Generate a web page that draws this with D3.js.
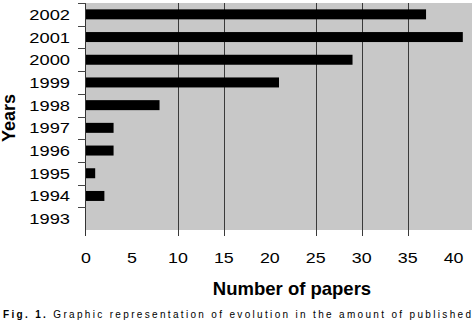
<!DOCTYPE html>
<html><head><meta charset="utf-8">
<script src="https://cdn.jsdelivr.net/npm/d3@7"></script>
<style>
html,body{margin:0;padding:0;background:#fff;overflow:hidden}
svg{display:block}
text{font-family:"Liberation Sans",Arial,Helvetica,sans-serif;fill:#000}
</style></head>
<body>
<svg id="chart" width="474" height="322"></svg>
<script>
const years = ["2002","2001","2000","1999","1998","1997","1996","1995","1994","1993"];
const papers = [37, 41, 29, 21, 8, 3, 3, 1, 2, 0];
const xTicks = [0, 5, 10, 15, 20, 25, 30, 35, 40];
const gridValues = [10, 15, 25, 30, 35];
const xTitle = "Number of papers";
const yTitle = "Years";
const captionBold = "Fig. 1.";
const captionText = " Graphic representation of evolution in the amount of published";

const svg = d3.select("#chart");
const L = 86, R = 472, T = 3, B = 230;

const x = d3.scaleLinear().domain([0, 42]).range([L, R]);
const y = d3.scaleBand().domain(years).range([T, B]).paddingInner(0.56).paddingOuter(0.28);
const yb = d3.scaleBand().domain(years).range([T, B]);

svg.append("rect").attr("x", L).attr("y", T).attr("width", R - L).attr("height", B - T)
  .attr("fill", "#c8c8c8");

svg.append("g").selectAll("line").data(gridValues).join("line")
  .attr("x1", d => Math.round(x(d)) + 0.5).attr("x2", d => Math.round(x(d)) + 0.5)
  .attr("y1", T).attr("y2", B + 6)
  .attr("stroke", "#3a3a3a").attr("stroke-width", 1);

svg.append("g").selectAll("rect").data(years).join("rect")
  .attr("x", x(0))
  .attr("y", d => y(d))
  .attr("height", y.bandwidth())
  .attr("width", (d, i) => x(papers[i]) - x(0))
  .attr("fill", "#000");

svg.append("line").attr("x1", L - 0.5).attr("x2", L - 0.5).attr("y1", T).attr("y2", B + 6)
  .attr("stroke", "#333").attr("stroke-width", 1);

svg.append("g").selectAll("line").data(years).join("line")
  .attr("x1", L - 8).attr("x2", L)
  .attr("y1", d => Math.round(yb(d)) + 0.5).attr("y2", d => Math.round(yb(d)) + 0.5)
  .attr("stroke", "#444").attr("stroke-width", 1);

svg.append("g").selectAll("text").data(years).join("text")
  .attr("transform", d => `translate(70,${yb(d) + yb.bandwidth() / 2 + 5.5}) scale(1.18,1)`)
  .attr("text-anchor", "end")
  .style("font-size", "15.5px")
  .text(d => d);

svg.append("g").selectAll("text").data(xTicks).join("text")
  .attr("transform", d => `translate(${x(d)},263) scale(1.15,1)`)
  .attr("text-anchor", "middle")
  .style("font-size", "15.5px")
  .text(d => d);

svg.append("text").attr("x", 292).attr("y", 295).attr("text-anchor", "middle")
  .style("font-size", "18.5px").style("font-weight", "bold").text(xTitle);

svg.append("text").attr("transform", "translate(15,118) rotate(-90)")
  .attr("text-anchor", "middle")
  .style("font-size", "18px").style("font-weight", "bold").text(yTitle);

const cap = svg.append("text").attr("x", 3).attr("y", 318)
  .style("font-size", "10px").attr("fill", "#222")
  .attr("textLength", 468).attr("lengthAdjust", "spacing");
cap.append("tspan").style("font-weight", "bold").text(captionBold);
cap.append("tspan").text(captionText);
</script>
</body></html>
